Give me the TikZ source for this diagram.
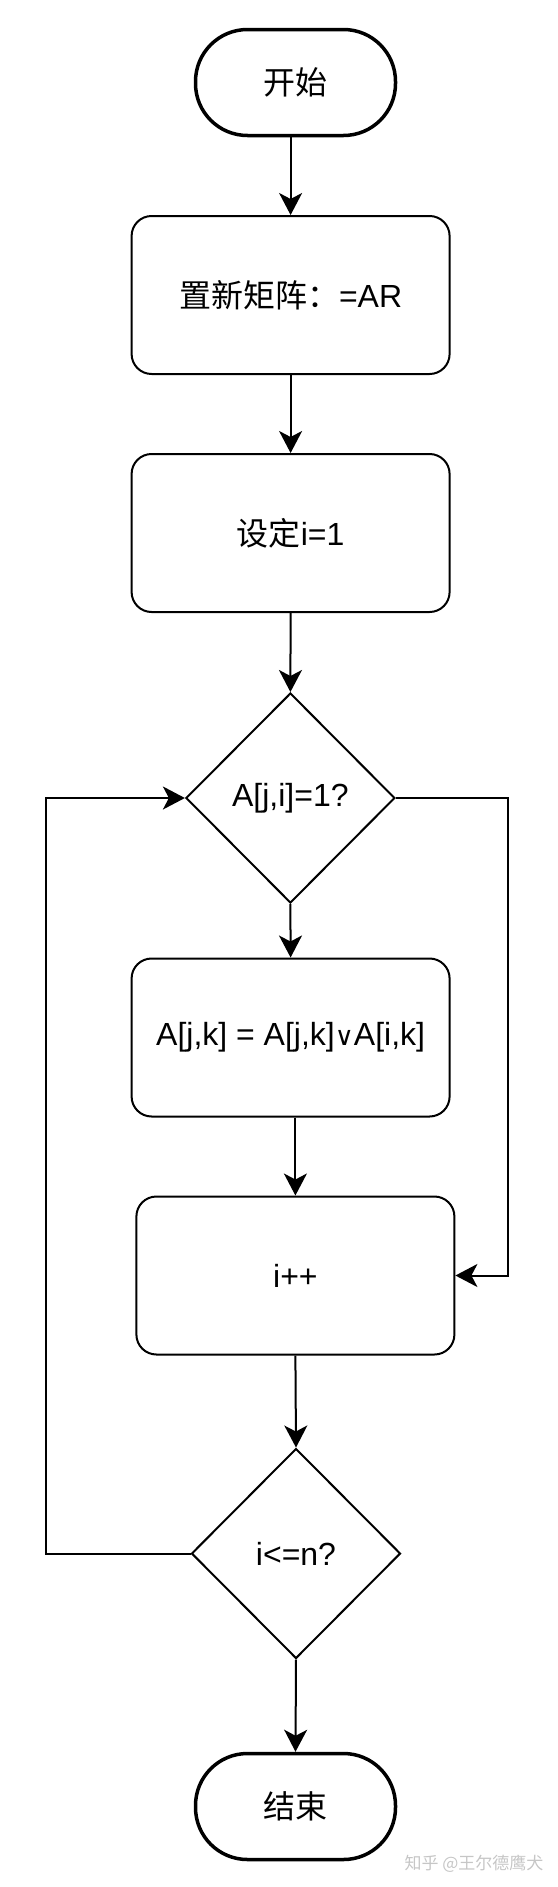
\documentclass[tikz,border=0pt]{standalone}
\usepackage{fontspec}
\setmainfont{Liberation Sans}
\newfontfamily\cjk{Noto Sans CJK SC}
\newfontfamily\orsym{DejaVu Sans}
\usetikzlibrary{shapes.geometric,arrows.meta}

\begin{document}
\begin{tikzpicture}[x=1pt,y=-1pt,
		term/.style={draw, line width=3.5pt, rectangle, rounded corners=52pt, minimum width=200pt, minimum height=106pt, font=\fontsize{32}{38}\selectfont},
		proc/.style={draw, line width=2pt, rectangle, rounded corners=20pt, minimum width=318pt, minimum height=158pt, font=\fontsize{32}{38}\selectfont},
		decide/.style={draw, line width=2pt, diamond, minimum width=209pt, minimum height=210pt, inner sep=0pt, font=\fontsize{32}{38}\selectfont},
		flow/.style={line width=2pt, -{Stealth[length=22pt,width=23pt,inset=6pt]}}]
			\useasboundingbox (0,0) rectangle (557,1887);
			\node[term] (start) at (295.5,82.5) {\cjk 开始};
			\node[proc] (setA) at (290.6,295) {{\cjk 置新矩阵：}=AR};
			\node[proc] (seti) at (290.6,533) {{\cjk 设定}i=1};
			\node[decide] (testA) at (290.4,798) {A[j,i]=1?};
			\node[proc] (orrow) at (290.6,1037.5) {A[j,k] = A[j,k]{\orsym\fontsize{26}{30}\selectfont ∨}A[i,k]};
			\node[proc] (inci) at (295.4,1275.5) {i++};
			\node[decide] (testi) at (296,1553.5) {i<=n?};
			\node[term] (stop) at (295.5,1806.5) {\cjk 结束};
			\node[text=gray!45, font=\cjk\fontsize{17}{20}\selectfont] (zhihu) at (474,1863.5) {知乎 @王尔德鹰犬};
			\coordinate (loopL) at (46.2,1553.5);
			\coordinate (loopR) at (508,798);
			\draw[flow] (setA.north |- start.south) -- (setA.north);
			\draw[flow] (setA.south) -- (seti.north);
			\draw[flow] (seti.south) -- (testA.north);
			\draw[flow] (testA.south) -- (orrow.north);
			\draw[flow] (inci.north |- orrow.south) -- (inci.north);
			\draw[flow] (inci.south) -- (testi.north);
			\draw[flow] (testi.south) -- (stop.north);
			\draw[flow] (testi.west) -- (loopL) |- (testA.west);
			\draw[flow] (testA.east) -- (loopR) |- (inci.east);
		\end{tikzpicture}
\end{document}
